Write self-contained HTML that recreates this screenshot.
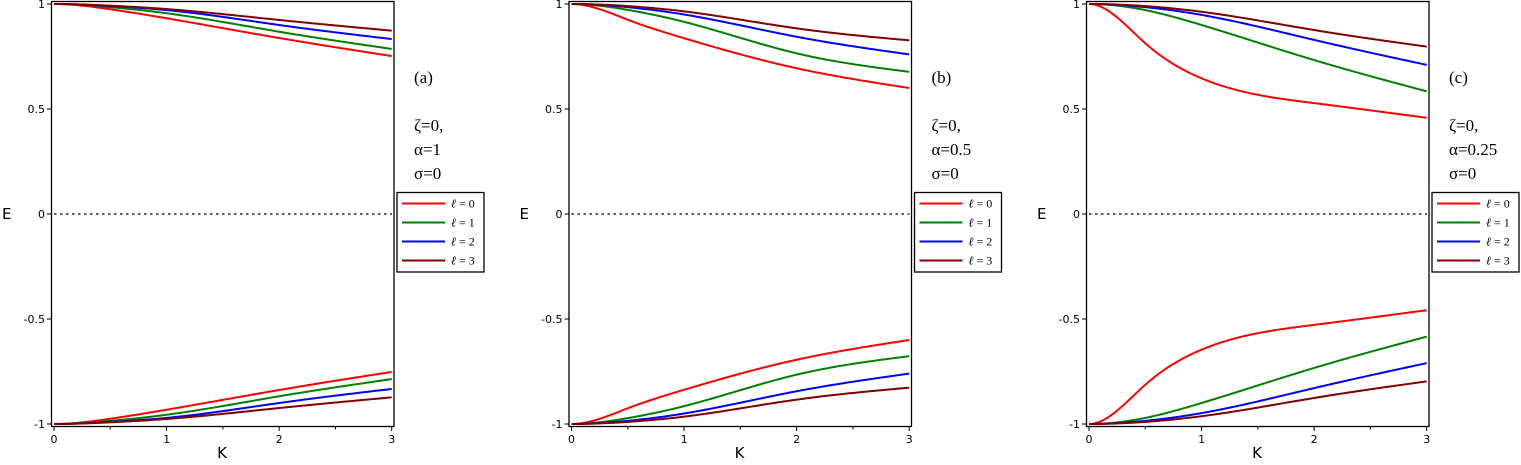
<!DOCTYPE html>
<html><head><meta charset="utf-8"><style>
html,body{margin:0;padding:0;background:#fff;}
svg{display:block;}
.t{font-family:"DejaVu Sans","Liberation Sans",sans-serif;font-size:11px;fill:#000;}
.s{font-family:"Liberation Serif",serif;font-size:17px;fill:#000;}
.l{font-family:"Liberation Serif",serif;font-size:12px;fill:#000;}
</style></head><body>
<svg id="c" width="1521" height="465" xmlns="http://www.w3.org/2000/svg"></svg>
<script>
const svg=document.getElementById('c');
const colors=['#ff0000','#008000','#0000ff','#800000'];
const panels=[
 {dx:0,lab:'(a)',a:'α=1',d:[[0.975,0.932,0.838,0.752],[0.985,0.956,0.868,0.786],[0.99,0.971,0.9,0.833],[0.992,0.976,0.924,0.873]]},
 {dx:517.5,lab:'(b)',a:'α=0.5',d:[[0.925,0.837,0.694,0.60],[0.972,0.915,0.765,0.677],[0.985,0.95,0.844,0.76],[0.99,0.965,0.884,0.827]]},
 {dx:1035,lab:'(c)',a:'α=0.25',d:[[0.813,0.646,0.528,0.458],[0.971,0.9,0.733,0.584],[0.985,0.948,0.829,0.71],[0.99,0.963,0.876,0.797]]}
];
// cubic spline: clamped slope 0 at start, natural at end
function spline(xs,ys){
 const n=xs.length,h=[];for(let i=0;i<n-1;i++)h[i]=xs[i+1]-xs[i];
 const A=[],B=[],C=[],D=[];
 // row 0: clamped
 A[0]=0;B[0]=2*h[0];C[0]=h[0];D[0]=6*((ys[1]-ys[0])/h[0]-0);
 for(let i=1;i<n-1;i++){A[i]=h[i-1];B[i]=2*(h[i-1]+h[i]);C[i]=h[i];D[i]=6*((ys[i+1]-ys[i])/h[i]-(ys[i]-ys[i-1])/h[i-1]);}
 A[n-1]=0;B[n-1]=1;C[n-1]=0;D[n-1]=0;
 for(let i=1;i<n;i++){const w=A[i]/B[i-1];B[i]-=w*C[i-1];D[i]-=w*D[i-1];}
 const M=new Array(n);M[n-1]=D[n-1]/B[n-1];
 for(let i=n-2;i>=0;i--)M[i]=(D[i]-C[i]*M[i+1])/B[i];
 return x=>{let i=0;while(i<n-2&&x>xs[i+1])i++;const a=xs[i+1]-x,b=x-xs[i],hi=h[i];
  return M[i]*a*a*a/(6*hi)+M[i+1]*b*b*b/(6*hi)+(ys[i]/hi-M[i]*hi/6)*a+(ys[i+1]/hi-M[i+1]*hi/6)*b;};
}
let h='';
const X=k=>54+k*(391.7-54)/3, Y=e=>214-210*e;
for(const p of panels){
 h+=`<g transform="translate(${p.dx},0)">`;
 p.d.forEach((v,i)=>{
  const f=spline([0,0.5,1,2,3],[1,v[0],v[1],v[2],v[3]]);
  for(const sg of [1,-1]){
   let pts=[];
   for(let j=0;j<=150;j++){const k=3*j/150;const e=Math.min(1,f(k));pts.push(X(k).toFixed(2)+','+Y(sg*e).toFixed(2));}
   h+=`<polyline points="${pts.join(' ')}" fill="none" stroke="${colors[i]}" stroke-width="2"/>`;
  }
 });
 h+=`<line x1="54" y1="214" x2="392" y2="214" stroke="#000" stroke-width="1.3" stroke-dasharray="2.5,3.5"/>`;
 h+=`<rect x="51.5" y="1.5" width="342.5" height="425" fill="none" stroke="#000" stroke-width="1.3"/>`;
 [[1,'1'],[0.5,'0.5'],[0,'0'],[-0.5,'-0.5'],[-1,'-1']].forEach(([v,s])=>{
  const y=Y(v);h+=`<line x1="47" y1="${y}" x2="51.5" y2="${y}" stroke="#000"/><text class="t" x="45" y="${y+4}" text-anchor="end">${s}</text>`;
 });
 for(let k=0;k<=3;k+=0.5){const x=X(k);h+=`<line x1="${x}" y1="427" x2="${x}" y2="${k%1?429.5:431}" stroke="#000"/>`;
  if(k%1==0)h+=`<text class="t" x="${x}" y="443" text-anchor="middle">${k}</text>`;}
 h+=`<text class="t" style="font-size:15px" x="222" y="458" text-anchor="middle">K</text>`;
 h+=`<text class="t" style="font-size:15px" x="2" y="219">E</text>`;
 h+=`<text class="s" x="414" y="83">${p.lab}</text><text class="s" x="414" y="131">ζ=0,</text><text class="s" x="414" y="155">${p.a}</text><text class="s" x="414" y="179">σ=0</text>`;
 h+=`<rect x="397" y="192.5" width="87" height="79.5" fill="#fff" stroke="#000" stroke-width="1.3"/>`;
 colors.forEach((c,i)=>{const y=203.5+i*19;h+=`<line x1="402" y1="${y}" x2="445" y2="${y}" stroke="${c}" stroke-width="2"/><text class="l" x="451" y="${y+4}"><tspan font-style="italic">ℓ</tspan> = ${i}</text>`;});
 h+='</g>';
}
svg.innerHTML=h;
</script>
</body></html>
